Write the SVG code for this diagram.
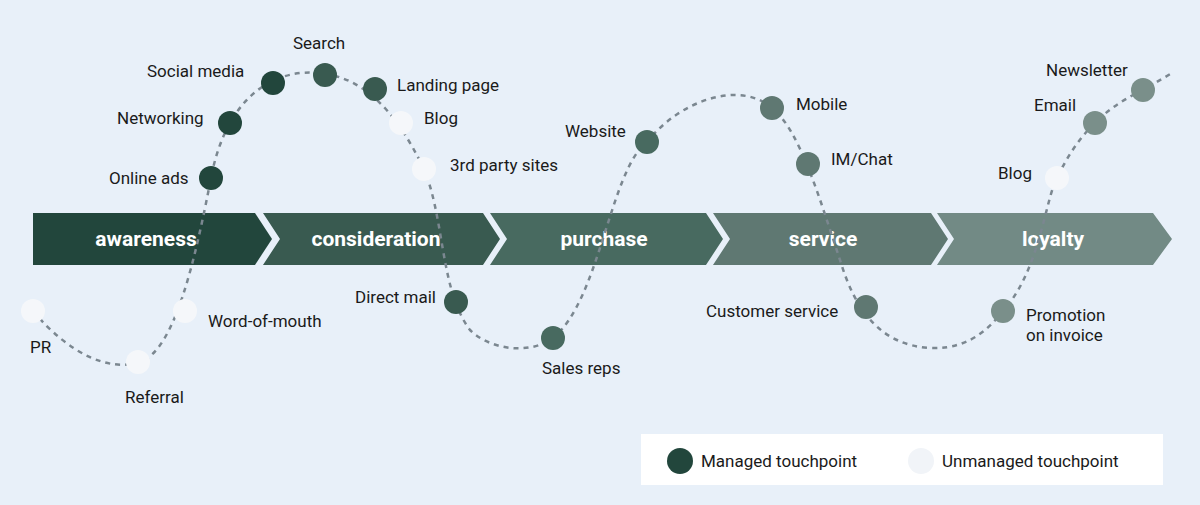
<svg xmlns="http://www.w3.org/2000/svg" width="1200" height="505" viewBox="0 0 1200 505">
<style>
text{font-family:Roboto,"Liberation Sans",sans-serif;font-size:17px;fill:#1a1a1a}
.st{font-size:21px;font-weight:bold;fill:#fff;text-anchor:middle}
.u{fill:#f5f7fa}
.c1{fill:#22463c}.c2{fill:#395a50}.c3{fill:#486a60}.c4{fill:#5f7872}.c5{fill:#7a8f8a}
</style>
<rect width="1200" height="505" fill="#e8f0f9"/>
<g id="stages">
<g id="awareness"><path d="M33,213H255L272,239L255,265H33Z" fill="#22463c"/><text class="st" x="146" y="246">awareness</text></g>
<g id="consideration"><path d="M263,213H483L500,239L483,265H263L280,239Z" fill="#395a50"/><text class="st" x="376" y="246">consideration</text></g>
<g id="purchase"><path d="M490,213H706L723,239L706,265H490L507,239Z" fill="#486a60"/><text class="st" x="604" y="246">purchase</text></g>
<g id="service"><path d="M713,213H931L948,239L931,265H713L730,239Z" fill="#5f7872"/><text class="st" x="823" y="246">service</text></g>
<g id="loyalty"><path d="M937,213H1153L1172,239L1153,265H937L954,239Z" fill="#728a85"/><text class="st" x="1053" y="246">loyalty</text></g>
</g>
<g id="connectors">
<path d="M33,311 C70,355 110,372 140,362 C175,350 195,260 211,178 C220,130 245,80 300,73 C360,68 395,110 424,169 C445,220 440,290 470,330 C490,350 530,355 553,338 C600,300 610,170 647,142 C680,100 740,80 772,108 C800,130 820,200 840,260 C855,310 880,345 930,348 C975,350 995,320 1003,311 C1040,270 1045,200 1057,178 C1075,140 1100,110 1143,90 L1172,73" fill="none" stroke="#7b8790" stroke-width="2.5" stroke-dasharray="5,5"/>
</g>
<g id="touchpoints">
<g id="pr"><circle class="u" cx="33" cy="311" r="12"/><text x="30" y="353">PR</text></g>
<g id="referral"><circle class="u" cx="138" cy="362" r="12"/><text x="125" y="403">Referral</text></g>
<g id="wom"><circle class="u" cx="185" cy="311" r="12"/><text x="208" y="327">Word-of-mouth</text></g>
<g id="onlineads"><circle class="c1" cx="211" cy="178" r="12"/><text x="109" y="184">Online ads</text></g>
<g id="networking"><circle class="c1" cx="230" cy="123" r="12"/><text x="117" y="124">Networking</text></g>
<g id="social"><circle class="c1" cx="273" cy="83" r="12"/><text x="147" y="77">Social media</text></g>
<g id="search"><circle class="c2" cx="325" cy="75" r="12"/><text x="293" y="49">Search</text></g>
<g id="landing"><circle class="c2" cx="375" cy="89" r="12"/><text x="397" y="91">Landing page</text></g>
<g id="blog1"><circle class="u" cx="401" cy="123" r="12"/><text x="424" y="124">Blog</text></g>
<g id="thirdparty"><circle class="u" cx="424" cy="169" r="12"/><text x="450" y="171">3rd party sites</text></g>
<g id="directmail"><circle class="c2" cx="456" cy="302" r="12"/><text x="355" y="303">Direct mail</text></g>
<g id="salesreps"><circle class="c3" cx="553" cy="338" r="12"/><text x="542" y="374">Sales reps</text></g>
<g id="website"><circle class="c3" cx="647" cy="142" r="12"/><text x="565" y="137">Website</text></g>
<g id="mobile"><circle class="c4" cx="772" cy="108" r="12"/><text x="796" y="110">Mobile</text></g>
<g id="imchat"><circle class="c4" cx="808" cy="164" r="12"/><text x="831" y="165">IM/Chat</text></g>
<g id="custservice"><circle class="c4" cx="866" cy="307" r="12"/><text x="706" y="317">Customer service</text></g>
<g id="promotion"><circle class="c5" cx="1003" cy="311" r="12"/><text x="1026" y="321">Promotion</text><text x="1026" y="341">on invoice</text></g>
<g id="blog2"><circle class="u" cx="1057" cy="178" r="12"/><text x="998" y="179">Blog</text></g>
<g id="email"><circle class="c5" cx="1095" cy="123" r="12"/><text x="1034" y="111">Email</text></g>
<g id="newsletter"><circle class="c5" cx="1143" cy="90" r="12"/><text x="1046" y="76">Newsletter</text></g>
</g>
<g id="legend">
<rect x="641" y="434" width="522" height="51" fill="#fff"/>
<circle class="c1" cx="680" cy="461" r="13"/><text x="701" y="467">Managed touchpoint</text>
<circle cx="921" cy="461" r="13" fill="#f1f4f8"/><text x="942" y="467">Unmanaged touchpoint</text>
</g>
</svg>
